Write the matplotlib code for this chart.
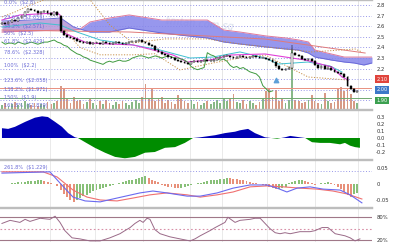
import matplotlib
matplotlib.use("Agg")
import matplotlib.pyplot as plt
import numpy as np

# ---------------- data ----------------
opens = [2.62,2.63,2.62,2.64,2.66,2.65,2.68,2.70,2.73,2.76,2.75,2.74,2.72,2.73,2.74,2.72,2.71,2.73,2.70,2.55,
         2.52,2.50,2.49,2.48,2.46,2.45,2.44,2.45,2.43,2.44,2.44,2.43,2.45,2.44,2.43,2.44,2.45,2.44,2.43,2.44,
         2.45,2.45,2.46,2.47,2.45,2.44,2.42,2.41,2.38,2.36,2.34,2.33,2.31,2.30,2.28,2.27,2.26,2.25,2.24,2.26,
         2.27,2.26,2.27,2.28,2.27,2.27,2.28,2.30,2.31,2.32,2.32,2.31,2.30,2.31,2.32,2.31,2.30,2.31,2.32,2.31,
         2.30,2.30,2.29,2.28,2.26,2.22,2.20,2.19,2.20,2.21,2.35,2.33,2.32,2.29,2.28,2.29,2.27,2.23,2.21,2.22,
         2.20,2.21,2.19,2.17,2.16,2.15,2.12,2.04,2.01,1.98]
closes = [2.63,2.62,2.64,2.66,2.65,2.68,2.70,2.73,2.76,2.75,2.74,2.72,2.73,2.74,2.72,2.71,2.73,2.71,2.55,2.52,
          2.50,2.49,2.48,2.46,2.45,2.44,2.45,2.43,2.44,2.44,2.43,2.45,2.44,2.43,2.44,2.45,2.44,2.43,2.44,2.45,
          2.45,2.46,2.47,2.45,2.44,2.42,2.41,2.38,2.36,2.34,2.33,2.31,2.30,2.28,2.27,2.26,2.25,2.24,2.26,2.27,
          2.26,2.27,2.28,2.27,2.27,2.28,2.30,2.31,2.32,2.32,2.31,2.30,2.31,2.32,2.31,2.30,2.31,2.32,2.31,2.30,
          2.30,2.29,2.28,2.26,2.22,2.20,2.19,2.20,2.21,2.35,2.33,2.32,2.29,2.28,2.29,2.27,2.23,2.21,2.22,2.20,
          2.21,2.19,2.17,2.16,2.15,2.12,2.04,2.01,1.98,1.99]
highs = [2.64,2.64,2.65,2.67,2.67,2.69,2.71,2.74,2.77,2.77,2.76,2.75,2.74,2.75,2.75,2.73,2.74,2.74,2.71,2.56,
         2.53,2.51,2.50,2.49,2.47,2.46,2.46,2.46,2.45,2.45,2.45,2.46,2.46,2.45,2.45,2.46,2.46,2.45,2.45,2.46,
         2.46,2.47,2.48,2.48,2.46,2.45,2.43,2.42,2.39,2.37,2.35,2.34,2.32,2.31,2.29,2.28,2.27,2.26,2.27,2.28,
         2.28,2.28,2.29,2.29,2.28,2.29,2.31,2.32,2.33,2.33,2.33,2.32,2.32,2.33,2.33,2.32,2.32,2.33,2.33,2.32,
         2.31,2.31,2.30,2.29,2.27,2.23,2.21,2.21,2.22,2.42,2.36,2.34,2.33,2.30,2.30,2.30,2.28,2.24,2.23,2.23,
         2.22,2.22,2.20,2.18,2.17,2.16,2.13,2.05,2.02,2.00]
lows = [2.61,2.61,2.61,2.63,2.64,2.64,2.67,2.69,2.72,2.74,2.73,2.71,2.71,2.72,2.71,2.70,2.70,2.70,2.54,2.51,
        2.49,2.48,2.47,2.45,2.44,2.43,2.43,2.42,2.42,2.43,2.42,2.42,2.43,2.42,2.42,2.43,2.43,2.42,2.42,2.43,
        2.44,2.44,2.45,2.44,2.43,2.41,2.40,2.37,2.35,2.33,2.32,2.30,2.29,2.27,2.26,2.25,2.24,2.23,2.23,2.25,
        2.25,2.25,2.26,2.26,2.26,2.26,2.27,2.29,2.30,2.31,2.30,2.29,2.29,2.30,2.30,2.29,2.29,2.30,2.30,2.29,
        2.29,2.28,2.27,2.25,2.21,2.19,2.18,2.18,2.19,2.20,2.32,2.31,2.28,2.27,2.27,2.26,2.22,2.20,2.20,2.19,
        2.19,2.18,2.16,2.15,2.14,2.11,2.03,2.00,1.97,1.97]
volumes = [4,6,3,5,7,4,6,8,5,4,6,3,5,4,7,5,6,8,23,20,10,6,12,8,9,5,7,10,6,4,
           8,5,9,6,4,7,5,8,6,4,7,9,6,12,25,10,20,8,10,12,6,9,7,5,14,11,8,6,9,5,
           7,4,6,8,5,7,9,6,11,8,10,15,7,6,9,5,8,6,4,7,10,18,20,12,19,8,10,6,9,61,
           9,8,6,7,9,14,8,6,5,16,8,6,7,20,22,18,20,15,8,6]

# Ichimoku cloud (index, span A, span B)
cloud_idx = [0, 9, 18, 22, 24, 27, 33, 39, 49, 60, 63, 68, 73, 81, 87, 91, 94, 96, 101, 105, 108, 111, 113.5]
span_a = [2.545,2.555,2.564,2.564,2.573,2.640,2.677,2.706,2.658,2.658,2.658,2.564,2.545,2.508,2.489,2.470,2.451,2.375,2.338,2.309,2.309,2.309,2.309]
span_b = [2.649,2.658,2.677,2.592,2.573,2.545,2.545,2.583,2.536,2.498,2.489,2.451,2.432,2.404,2.385,2.375,2.347,2.309,2.281,2.262,2.253,2.234,2.253]

kijun_idx = [0, 5.5, 16.9, 17.8, 18.4, 26.1, 40.2, 52.5, 56.8, 63.8, 70.0, 80.7, 93.0, 101.2, 104.3, 106.2]
kijun = [2.658,2.706,2.725,2.706,2.545,2.442,2.423,2.328,2.262,2.281,2.328,2.338,2.281,2.215,2.121,2.092]
tenkan_idx = [0, 11.7, 17.8, 23.0, 30.1, 40.2, 48.5, 57.7, 64.7, 73.0, 80.7, 84.7, 93.9, 100.6, 104.3]
tenkan = [2.592,2.630,2.611,2.545,2.470,2.423,2.375,2.300,2.309,2.357,2.300,2.243,2.262,2.225,2.168]
trend_idx = [0, 39.3, 80.7, 111.4]
trend = [2.564, 2.545, 2.479, 2.347]
band_up_idx = [0, 4.0, 8.6, 13.2, 27.0, 33.1, 40.2, 50.0, 62.9, 73.0, 81.3, 88.4, 95.1, 108.3, 110.4]
band_up = [2.687, 2.734, 2.800, 2.850, 2.850, 2.611, 2.442, 2.480, 2.480, 2.432, 2.404, 2.380, 2.357, 2.385, 2.357]
band_lo_idx = [19.3, 23.9, 30.1, 40.2, 46.9, 54.6, 64.7, 73.0, 80.7, 93.9, 106.2]
band_lo = [2.560, 2.400, 2.330, 2.330, 2.340, 2.187, 2.253, 2.300, 2.328, 2.121, 2.092]

fib_pct = ["0.0%", "23.6%", "38.2%", "50%", "61.8%", "78.6%", "100%", "123.6%", "138.2%", "150%", "161.8%"]
fib_price = [2.8, 2.659, 2.571, 2.5, 2.429, 2.328, 2.2, 2.058, 1.971, 1.9, 1.829]
price_grid = [1.9, 2.0, 2.1, 2.2, 2.3, 2.4, 2.5, 2.6, 2.7, 2.8]
price_ticks = [2.2, 2.3, 2.4, 2.5, 2.6, 2.7, 2.8]
tag_values = [2.1, 2.0, 1.9]

# oscillator area (index, value)
osc_idx = [0,1.9,4.0,7.1,10.1,12.3,14.1,16.3,18.4,20.3,22.4,23.3,25.5,28.5,31.6,34.7,37.7,40.8,43.9,46.9,50.0,53.1,
           56.1,58.6,60.8,65.4,68.4,71.5,73.0,75.5,77.6,80.7,84.4,86.8,88.4,91.4,93.0,95.1,97.6,100.6,103.7,105.2,106.8,108.3,109.8]
osc = [0.14,0.13,0.16,0.23,0.29,0.31,0.30,0.23,0.16,0.07,0.01,0.0,-0.06,-0.14,-0.21,-0.27,-0.29,-0.27,-0.21,-0.20,-0.14,
       -0.13,-0.07,0.0,0.01,0.04,0.07,0.09,0.11,0.13,0.07,0.01,-0.01,0.01,0.03,0.01,0.0,-0.06,-0.07,-0.07,-0.09,-0.07,-0.11,-0.13,-0.14]
osc_ticks = [0.3, 0.2, 0.1, 0.0, -0.1, -0.2]

# MACD (index, value)
macd_idx = [0, 14.7, 17.8, 21.8, 25.5, 30.1, 35.3, 42.3, 46.3, 50.6, 56.8, 60.8, 66.0, 70.9, 76.1, 81.3, 84.4, 87.4, 90.5, 94.5, 98.5, 103.7, 106.8, 110.4]
macd = [0.034,0.038,0.003,-0.041,-0.053,-0.056,-0.044,-0.028,-0.022,-0.028,-0.038,-0.038,-0.028,-0.013,-0.003,-0.003,-0.013,-0.025,-0.013,-0.009,-0.016,-0.019,-0.034,-0.059]
signal_idx = [0, 12.6, 16.9, 21.8, 26.1, 30.1, 35.3, 40.2, 45.4, 50.6, 56.8, 60.8, 66.0, 70.9, 76.1, 81.3, 86.2, 91.4, 96.6, 101.5, 105.8, 110.4]
signal = [0.038,0.038,0.022,-0.019,-0.041,-0.050,-0.053,-0.044,-0.034,-0.028,-0.034,-0.041,-0.034,-0.025,-0.009,-0.006,-0.009,-0.013,-0.016,-0.022,-0.031,-0.047]
hist = [0.000,0.001,0.001,0.003,0.004,0.005,0.006,0.007,0.008,0.009,0.010,0.011,0.012,0.010,0.006,0.003,0.001,-0.006,-0.019,-0.031,
        -0.041,-0.050,-0.056,-0.050,-0.044,-0.038,-0.034,-0.028,-0.022,-0.019,-0.016,-0.013,-0.009,-0.006,-0.003,0.001,0.003,0.006,0.009,0.011,
        0.014,0.016,0.019,0.022,0.025,0.019,0.013,0.009,0.006,-0.003,-0.006,-0.009,-0.011,-0.012,-0.013,-0.013,-0.009,-0.006,-0.003,0.001,
        0.003,0.004,0.006,0.009,0.011,0.013,0.014,0.016,0.017,0.019,0.018,0.016,0.015,0.013,0.011,0.009,0.006,0.004,0.003,0.001,
        -0.003,-0.006,-0.009,-0.013,-0.016,-0.016,-0.013,-0.009,0.003,0.006,0.009,0.011,0.013,0.009,0.006,0.003,-0.003,0.001,0.003,0.004,
        0.006,0.003,-0.003,-0.009,-0.016,-0.025,-0.034,-0.041,-0.030,-0.028]

# Stochastic / RSI line (index, %)
stoch_idx = [0,2.5,5.5,7.1,8.6,11.7,14.7,16.3,17.8,19.3,21.5,23.9,27.0,30.1,33.1,36.2,37.7,39.3,40.8,42.3,43.3,44.5,45.4,46.9,48.5,
             51.5,54.6,57.7,59.2,60.8,63.8,65.4,68.4,69.3,71.5,73.0,76.1,77.6,79.2,80.7,82.2,83.8,85.3,86.8,88.4,91.4,94.5,96.0,98.2,100.0,
             102.2,105.2,106.8,108.3,109.8]
stoch = [63.6,71.8,66.4,74.5,69.0,77.3,74.5,82.7,66.4,44.5,25.5,22.7,17.3,17.3,25.5,36.4,44.5,52.7,63.6,71.8,66.4,77.3,74.5,47.3,36.4,
         28.2,22.7,17.3,22.7,30.9,44.5,52.7,66.4,80.0,66.4,71.8,74.5,77.3,77.3,63.6,50.0,39.1,36.4,39.1,36.4,41.8,41.8,44.5,52.7,52.7,
         36.4,30.9,25.5,17.3,22.7]

# ---------------- figure ----------------
W, H = 400, 242
fig = plt.figure(figsize=(W / 100, H / 100), dpi=100)
fig.patch.set_facecolor("white")
xr = 372 / W
xlim = (-0.6, 113.5)
vgrid = [14.7, 28.5, 43.3, 57.7, 67.5, 81.3, 96.0, 109.2]
tick_kw = dict(labelsize=3.8, length=0, pad=3, labelcolor="#333333")


def panel(top, bottom):
    ax = fig.add_axes([0, 1 - bottom / H, xr, (bottom - top) / H])
    ax.set_xlim(*xlim)
    ax.set_facecolor("white")
    ax.yaxis.tick_right()
    ax.tick_params(axis="y", **tick_kw)
    ax.set_xticks([])
    for s in ["left", "right"]:
        ax.spines[s].set_visible(False)
    for s in ["top", "bottom"]:
        ax.spines[s].set_color("#bdbdbd")
        ax.spines[s].set_linewidth(1.0)
    for v in vgrid:
        ax.axvline(v, color="#e6e6e6", lw=0.6, zorder=0)
    return ax


# ---- main price panel ----
axv = fig.add_axes([0, 1 - 109 / H, xr, 109 / H])
axv.set_xlim(*xlim)
axv.set_ylim(0, 109)
axv.axis("off")
idx = np.arange(len(closes))
vcol = ["#88b888" if c >= o else "#d79a86" for o, c in zip(opens, closes)]
axv.bar(idx, volumes, width=0.55, color=vcol, zorder=1)
for v in vgrid:
    axv.axvline(v, color="#e6e6e6", lw=0.6, zorder=0)

ax = panel(0, 109)
ax.patch.set_visible(False)
ax.set_ylim(1.819, 2.847)
ax.set_yticks(price_ticks)
ax.set_yticklabels([f"{t:.1f}" for t in price_ticks])
for t in price_grid:
    ax.axhline(t, color="#8c8ce6", lw=0.6, ls=(0, (1.2, 2.2)), zorder=1)

# cloud
ci = np.array(cloud_idx)
sa = np.array(span_a)
sb = np.array(span_b)
ax.fill_between(ci, sa, sb, where=sa >= sb, interpolate=True, color="#8585ea", alpha=0.85, lw=0, zorder=2)
ax.fill_between(ci, sa, sb, where=sa < sb, interpolate=True, color="#b596d6", alpha=0.85, lw=0, zorder=2)
ax.plot(ci, sa, color="#e07a9a", lw=0.7, zorder=3)
ax.plot(ci, sb, color="#6a6ad8", lw=0.7, zorder=3)

# reference lines
ax.axhline(2.017, color="#e89080", lw=0.7, zorder=2)
ax.axhline(1.92, color="#70a870", lw=0.7, zorder=2)
ax.plot(trend_idx, trend, color="#e07a7a", lw=0.7, zorder=3)
ax.plot(band_up_idx, band_up, color="#c8904a", lw=0.7, ls=(0, (1.2, 1.6)), zorder=3)
ax.plot(band_lo_idx, band_lo, color="#c8904a", lw=0.7, ls=(0, (1.2, 1.6)), zorder=3)
ax.plot(tenkan_idx, tenkan, color="#40c0d0", lw=0.7, zorder=4)
ax.plot(kijun_idx, kijun, color="#e040d8", lw=0.8, zorder=4)
# lagging span: closes shifted back 26 periods
ax.plot(idx[26:] - 26, closes[26:], color="#3f9a3f", lw=0.7, zorder=4)

# candles
for i, (o, h, l, c) in enumerate(zip(opens, highs, lows, closes)):
    ax.vlines(i, l, h, color="black", lw=0.35, zorder=5)
    up = c >= o
    ax.bar(i, max(abs(c - o), 0.008), bottom=min(o, c), width=0.55,
           color="white" if up else "black", edgecolor="black", lw=0.3, zorder=6)

ax.scatter([84], [2.09], marker="^", s=10, color="#5da0d8", zorder=7)

# fib labels
for p, v in zip(fib_pct, fib_price):
    ax.text(0.012, v + 0.004, f"{p}  (\\${v:g})", transform=ax.get_yaxis_transform(),
            fontsize=3.6, color="#6b6bd6", va="bottom", ha="left", zorder=8)

# price tags (replace the 2.1 / 2.0 / 1.9 axis labels)
for v, col in zip(tag_values, ["#e0443c", "#3c78c8", "#3ca050"]):
    ax.text(1.012, v, f"{v:.2f}", transform=ax.get_yaxis_transform(), fontsize=3.6, color="white",
            va="center", ha="left", bbox=dict(boxstyle="square,pad=0.25", fc=col, ec="none"), zorder=9, clip_on=False)

ax.text(50, 2.56, "limtan.com.sg", fontsize=7, color="#8fa3c8", alpha=0.35, style="italic", rotation=-5, zorder=1)

# ---- oscillator panel ----
ax2 = panel(110, 159)
ax2.set_ylim(-0.3, 0.4)
ax2.set_yticks(osc_ticks)
ax2.set_yticklabels([f"{t:.1f}" for t in osc_ticks])
oi = np.array(osc_idx)
ov = np.array(osc)
ax2.fill_between(oi, 0, ov, where=ov >= 0, interpolate=True, color="#0000b4", lw=0)
ax2.fill_between(oi, 0, ov, where=ov < 0, interpolate=True, color="#008c00", lw=0)

# ---- MACD panel ----
ax3 = panel(160, 207)
ax3.set_ylim(-0.072, 0.075)
ax3.set_yticks([0.05, 0, -0.05])
ax3.set_yticklabels(["0.05", "0", "-0.05"])
ax3.axhline(0.0406, color="#8c8ce6", lw=0.6, ls=(0, (1.2, 2.2)))
ax3.text(0.012, 0.0425, "261.8%  (\\$1.229)", transform=ax3.get_yaxis_transform(),
         fontsize=3.6, color="#6b6bd6", va="bottom", ha="left")
hcol = ["#88c078" if i == 0 or hist[i] >= hist[i - 1] else "#e8907a" for i in range(len(hist))]
ax3.bar(idx, hist, width=0.6, color=hcol)
ax3.plot(signal_idx, signal, color="#f07070", lw=0.8)
ax3.plot(macd_idx, macd, color="#6a6af0", lw=0.8)

# ---- stochastic panel ----
ax4 = panel(208, 243)
ax4.set_ylim(11.8, 104.5)
ax4.set_yticks([80, 20])
ax4.set_yticklabels(["80%", "20%"])
ax4.axhline(80, color="#a07888", lw=0.8)
ax4.axhline(20, color="#a07888", lw=0.8)
ax4.axhline(50, color="#d890a8", lw=0.8, ls=(0, (1.5, 2)))
ax4.plot(stoch_idx, stoch, color="#9a6a88", lw=0.7)

fig.savefig("out.png", dpi=100, facecolor="white")
